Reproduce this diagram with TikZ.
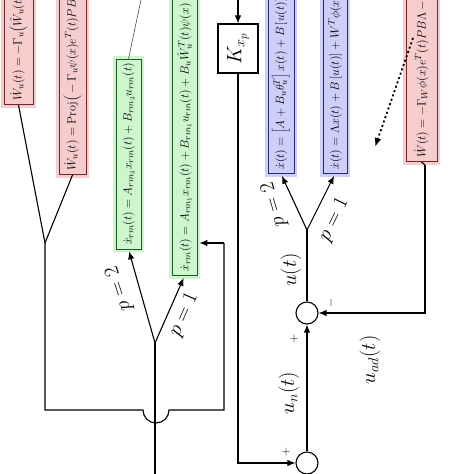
\documentclass[tikz,border=0pt]{standalone}
\usetikzlibrary{arrows.meta}
\definecolor{Rfill}{RGB}{246,204,204}
\definecolor{Rline}{RGB}{110,40,40}
\definecolor{Gfill}{RGB}{206,246,206}
\definecolor{Gline}{RGB}{30,90,30}
\definecolor{Bfill}{RGB}{206,206,250}
\definecolor{Bline}{RGB}{40,40,120}
\tikzset{
  eqbox/.style={rotate=90, draw=#1line, fill=#1fill, line width=0.8pt,
    preaction={draw=#1fill, line width=6pt}, inner xsep=4pt, inner ysep=2pt,
    minimum height=26pt, font=\fontsize{13}{15}\selectfont},
  kbox/.style={rotate=90, draw, line width=1.1pt, minimum width=49pt, minimum height=40pt,
    inner sep=0pt, font=\fontsize{21}{24}\selectfont},
  sumc/.style={circle, draw, line width=1.1pt, minimum size=22pt, inner sep=0pt},
  biglab/.style={font=\fontsize{22}{26}\selectfont, inner sep=0pt},
  signlab/.style={font=\fontsize{12}{14}\selectfont, inner sep=0pt, rotate=90},
  arr/.style={-{Latex[length=8pt,width=6.5pt]}},
  dotarr/.style={line width=1.8pt, dash pattern=on 2pt off 2.6pt, -{Latex[length=9pt,width=7pt]}},
  thinln/.style={line width=0.6pt, draw=black!70}
}
\begin{document}
\begin{tikzpicture}[x=1pt,y=-1pt,line width=1.1pt]
\useasboundingbox (0,0) rectangle (474,474);
\clip (0,0) rectangle (474,474);
% equation boxes
\node[eqbox=R, anchor=west, minimum height=29pt] (A) at (18.5,105) {$\dot{W}_u(t) = -\Gamma_u\Big(\hat{W}_u(t)\psi(x)e^T(t)PB_u\Big)$};
\node[eqbox=R, anchor=west, minimum height=27pt] (B) at (72.5,175) {$\dot{W}_u(t) = \mathrm{Proj}\Big(-\Gamma_u\psi(x)e^T(t)PB_u\Big)$};
\node[eqbox=G, minimum width=182pt, minimum height=25pt] (C) at (128.5,154) {$\dot{x}_{rm}(t) = A_{rm_2}x_{rm}(t) + B_{rm_2}u_{rm}(t)$};
\node[eqbox=G, minimum width=268pt, minimum height=25pt] (D) at (184.5,137.5) {$\dot{x}_{rm}(t) = A_{rm_1}x_{rm}(t) + B_{rm_1}u_{rm}(t) + B_u\hat{W}_u^T(t)\psi(x)$};
\node[kbox] (K) at (238,48.5) {$K_{x_p}$};
\node[eqbox=B, anchor=west] (E) at (281,174) {$\dot{x}(t) = \left[A + B_u\theta_u^T\right]x(t) + B\left[u(t)\right]$};
\node[eqbox=B, anchor=west, minimum height=24pt] (F) at (335,174) {$\dot{x}(t) = \Lambda x(t) + B\left[u(t)\right] + W^T\phi(x)$};
\node[eqbox=R, anchor=west, minimum height=31pt] (G) at (421.5,162) {$\dot{W}(t) = -\Gamma_W\phi(x)e^T(t)PB\Lambda - \Gamma_{\sigma}$};
% summing junctions
\node[sumc] (S1) at (307,313) {};
\node[sumc] (S2) at (307,463) {};
% coordinates
\coordinate (jA) at (45,243);
\coordinate (jB) at (155,343);
\coordinate (jC) at (307,230);
\coordinate (bot) at (155,474);
\coordinate (hl) at (45,410);
\coordinate (h1) at (143,410);
\coordinate (h2) at (224,410);
\coordinate (dr) at (224,243);
\coordinate (kin) at (238,0);
\coordinate (gout) at (425,165);
\coordinate (ctop) at (141,0);
\coordinate (dtop) at (186,0);
\coordinate (d1) at (413,38);
\coordinate (d2) at (375,147);
% left adaptive-law tree
\draw (A.west) -- (jA);
\draw (B.west) -- (jA);
\draw (jA) -- (hl) -- (h1) arc[start angle=180, end angle=0, radius=13] -- (h2) -- (dr);
\draw[arr, shorten >=2pt] (dr) -- (dr -| D.south);
% reference model switch
\draw (bot) -- (jB);
\draw[arr, shorten >=2pt] (jB) -- (C.west);
\draw[arr, shorten >=2pt] (jB) -- (D.west);
\draw[thinln] (C.east) -- (ctop);
\draw[thinln] (D.east) -- (dtop);
% plant switch
\draw[arr] (kin) -- (K.east);
\draw[arr] (K.west) |- (S2);
\draw[arr] (S2) -- (S1);
\draw (S1) -- (jC);
\draw[arr, shorten >=2pt] (jC) -- (E.west);
\draw[arr, shorten >=2pt] (jC) -- (F.west);
\draw (G.west) -- (gout);
\draw[arr] (gout) |- (S1);
\draw[dotarr] (d1) -- (d2);
% labels
\node[biglab, rotate=108] at (119,289) {$p=2$};
\node[biglab, rotate=66] at (184,315) {$p=1$};
\node[biglab, rotate=106] at (274,205) {$p=2$};
\node[biglab, rotate=64] at (334,220) {$p=1$};
\node[biglab, rotate=90] at (291,270) {$u(t)$};
\node[biglab, rotate=90] at (289,393) {$u_n(t)$};
\node[biglab, rotate=90] at (370,360) {$u_{ad}(t)$};
\node[signlab] at (286,452) {$+$};
\node[signlab] at (294,339) {$+$};
\node[signlab] at (331,303) {$-$};
\end{tikzpicture}
\end{document}
